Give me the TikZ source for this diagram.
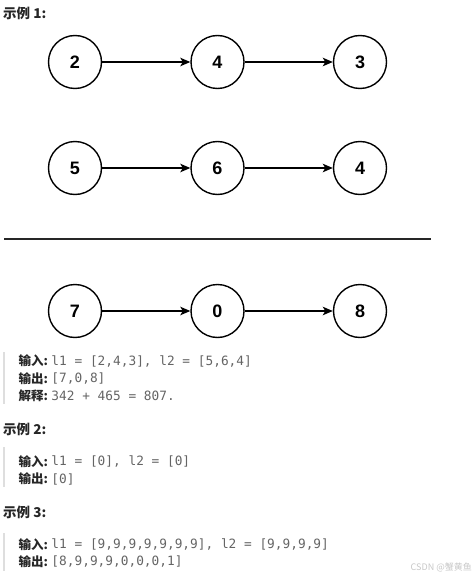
\documentclass[tikz,border=0pt]{standalone}
\usepackage{fontspec}
\setmainfont{Liberation Sans}
\setmonofont{DejaVu Sans Mono}
\newfontfamily\cjk{Noto Sans CJK SC}
\usetikzlibrary{arrows,arrows.meta,positioning}

\definecolor{codegray}{RGB}{100,100,100}
\definecolor{bargray}{RGB}{222,222,222}
\definecolor{headblack}{RGB}{38,38,38}

\begin{document}
\begin{tikzpicture}[-,>={Stealth[length=10pt,width=8.5pt,inset=2.5pt]},shorten >=0pt,auto,node distance=142.5pt,
		x=1pt,y=-1pt,
		num/.style={circle,draw,line width=1.4pt,minimum size=53pt,inner sep=0pt,
			font=\fontsize{18}{18}\selectfont\bfseries},
		link/.style={->,line width=1.4pt,draw=black},
		head/.style={anchor=west,inner sep=0pt,text=headblack,
			font=\cjk\bfseries\fontsize{13.5}{14}\selectfont},
		tag/.style={anchor=west,inner sep=0pt,text=headblack,
			font=\cjk\bfseries\fontsize{12.5}{13}\selectfont},
		code/.style={right=3pt of #1,inner sep=0pt,text=codegray,
			font=\ttfamily\fontsize{12.8}{13}\selectfont},
		bar/.style={draw=bargray,line width=2pt}]

		\useasboundingbox (0,0) rectangle (474,575);

		% example 1 header
		\node[head] (ex1) at (3,13) {示例 1:};

		% first number
		\node[num] (a1) at (75,62) {2};
		\node[num] (a2) [right of=a1] {4};
		\node[num] (a3) [right of=a2] {3};

		% second number
		\node[num] (b1) at (75,168) {5};
		\node[num] (b2) [right of=b1] {6};
		\node[num] (b3) [right of=b2] {4};

		% sum
		\node[num] (c1) at (75,311) {7};
		\node[num] (c2) [right of=c1] {0};
		\node[num] (c3) [right of=c2] {8};

		\path
		(a1) edge[link] node{}(a2)
		(a2) edge[link] node{}(a3)
		(b1) edge[link] node{}(b2)
		(b2) edge[link] node{}(b3)
		(c1) edge[link] node{}(c2)
		(c2) edge[link] node{}(c3);

		\draw[line width=1.4pt,draw=headblack] (4,239) -- (431,239);

		% block 1
		\draw[bar] (4,352) -- (4,404);
		\node[tag] (in1) at (18.5,361) {输入:};
		\node[code=in1] (v1) {l1 = [2,4,3], l2 = [5,6,4]};
		\node[tag] (out1) at (18.5,378.5) {输出:};
		\node[code=out1] (w1) {[7,0,8]};
		\node[tag] (why1) at (18.5,396) {解释:};
		\node[code=why1] (u1) {342 + 465 = 807.};

		% example 2
		\node[head] (ex2) at (3,429) {示例 2:};
		\draw[bar] (4,447) -- (4,487);
		\node[tag] (in2) at (18.5,461.5) {输入:};
		\node[code=in2] (v2) {l1 = [0], l2 = [0]};
		\node[tag] (out2) at (18.5,479) {输出:};
		\node[code=out2] (w2) {[0]};

		% example 3
		\node[head] (ex3) at (3,512) {示例 3:};
		\draw[bar] (4,533) -- (4,571);
		\node[tag] (in3) at (18.5,544.5) {输入:};
		\node[code=in3] (v3) {l1 = [9,9,9,9,9,9,9], l2 = [9,9,9,9]};
		\node[tag] (out3) at (18.5,562) {输出:};
		\node[code=out3] (w3) {[8,9,9,9,0,0,0,1]};

		\node[anchor=east,inner sep=0pt,text=black!22,font=\cjk\fontsize{9}{9}\selectfont]
			(mark) at (472,567) {CSDN @蟹黄鱼};
		\end{tikzpicture}
\end{document}
